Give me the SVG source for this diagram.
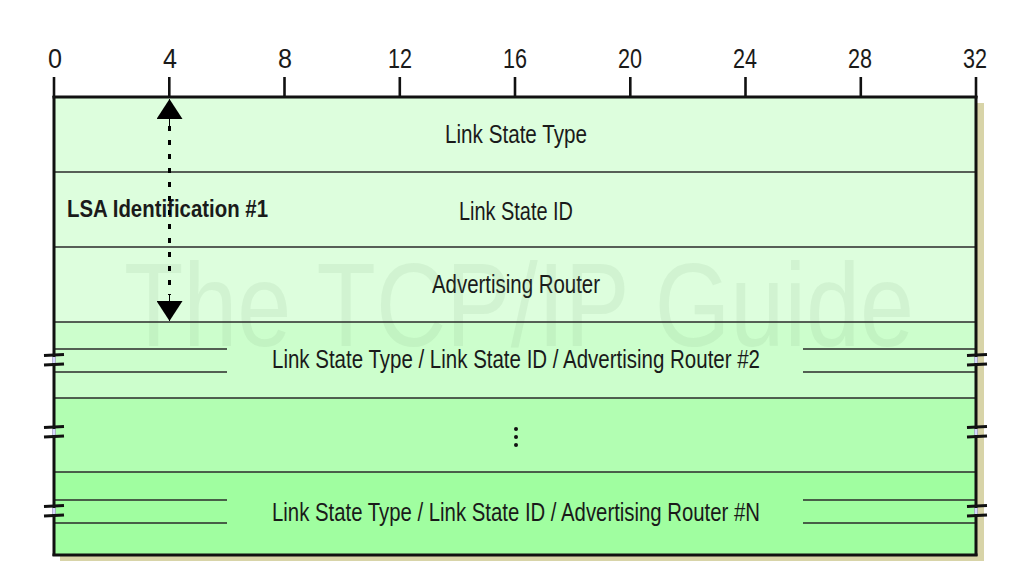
<svg xmlns="http://www.w3.org/2000/svg" width="1024" height="576" viewBox="0 0 1024 576">
<style>
.lbl{font-family:"Liberation Sans",Arial,sans-serif;font-size:25px;fill:#1a1a1a;text-anchor:middle}
.num{font-family:"Liberation Sans",Arial,sans-serif;font-size:28px;fill:#1a1a1a;text-anchor:middle}
.bold{font-family:"Liberation Sans",Arial,sans-serif;font-size:24px;font-weight:bold;fill:#1a1a1a}
.div{stroke:#2a2a2a;stroke-width:1.6}
.tick{stroke:#111;stroke-width:2.6}
.brk{stroke:#111;stroke-width:3}
.gap{stroke:#d6d6ff;stroke-width:3.2}
</style>
<defs>
<marker id="ah" viewBox="0 0 20 26" refX="20" refY="13" markerWidth="20" markerHeight="26" markerUnits="userSpaceOnUse" orient="auto">
<path d="M0,0 L20,13 L0,26 Z" fill="#000"/>
</marker>
</defs>
<rect width="1024" height="576" fill="#fff"/>
<!-- shadow -->
<rect x="977" y="103" width="7" height="458" fill="#d8d4a8"/>
<rect x="60" y="555" width="924" height="6" fill="#d8d4a8"/>
<!-- header -->
<g id="header">
<text class="num" x="55" y="68" textLength="14" lengthAdjust="spacingAndGlyphs">0</text>
<text class="num" x="170" y="68" textLength="14" lengthAdjust="spacingAndGlyphs">4</text>
<text class="num" x="285" y="68" textLength="14" lengthAdjust="spacingAndGlyphs">8</text>
<text class="num" x="400" y="68" textLength="24" lengthAdjust="spacingAndGlyphs">12</text>
<text class="num" x="515" y="68" textLength="24" lengthAdjust="spacingAndGlyphs">16</text>
<text class="num" x="630" y="68" textLength="24" lengthAdjust="spacingAndGlyphs">20</text>
<text class="num" x="745" y="68" textLength="24" lengthAdjust="spacingAndGlyphs">24</text>
<text class="num" x="860" y="68" textLength="24" lengthAdjust="spacingAndGlyphs">28</text>
<text class="num" x="975" y="68" textLength="24" lengthAdjust="spacingAndGlyphs">32</text>
<line class="tick" x1="54" y1="77" x2="54" y2="97"/>
<line class="tick" x1="169.3" y1="77" x2="169.3" y2="97"/>
<line class="tick" x1="284.5" y1="77" x2="284.5" y2="97"/>
<line class="tick" x1="399.8" y1="77" x2="399.8" y2="97"/>
<line class="tick" x1="515" y1="77" x2="515" y2="97"/>
<line class="tick" x1="630.3" y1="77" x2="630.3" y2="97"/>
<line class="tick" x1="745.5" y1="77" x2="745.5" y2="97"/>
<line class="tick" x1="860.8" y1="77" x2="860.8" y2="97"/>
<line class="tick" x1="976" y1="77" x2="976" y2="97"/>
</g>
<!-- row fills -->
<g id="row-link-state-type">
<rect x="54" y="97" width="922" height="75" fill="#ddfedd"/>
<text class="lbl" x="516" y="143" textLength="142" lengthAdjust="spacingAndGlyphs">Link State Type</text>
</g>
<g id="row-link-state-id">
<rect x="54" y="172" width="922" height="75" fill="#ddfedd"/>
<text class="lbl" x="516" y="220" textLength="114" lengthAdjust="spacingAndGlyphs">Link State ID</text>
</g>
<g id="row-advertising-router">
<rect x="54" y="247" width="922" height="75" fill="#ddfedd"/>
<text class="lbl" x="516" y="293" textLength="168" lengthAdjust="spacingAndGlyphs">Advertising Router</text>
</g>
<g id="row-2">
<rect x="54" y="322" width="922" height="76" fill="#ccfecc"/>
</g>
<g id="row-ellipsis">
<rect x="54" y="398" width="922" height="74" fill="#b2feb2"/>
</g>
<g id="row-n">
<rect x="54" y="472" width="922" height="83" fill="#a0fea0"/>
</g>
<!-- watermark -->
<text x="519" y="346" font-family="'Liberation Sans',Arial,sans-serif" font-size="118" fill="#6f8f6f" fill-opacity="0.1" text-anchor="middle" textLength="790" lengthAdjust="spacingAndGlyphs">The TCP/IP Guide</text>
<!-- row labels over watermark -->
<g id="row-2-label">
<line class="div" x1="54" y1="349" x2="227" y2="349"/>
<line class="div" x1="54" y1="372" x2="227" y2="372"/>
<line class="div" x1="803" y1="349" x2="976" y2="349"/>
<line class="div" x1="803" y1="372" x2="976" y2="372"/>
<text class="lbl" x="516" y="368" textLength="488" lengthAdjust="spacingAndGlyphs">Link State Type / Link State ID / Advertising Router #2</text>
</g>
<g id="row-ellipsis-label">
<circle cx="516" cy="429" r="2" fill="#111"/>
<circle cx="516" cy="437" r="2" fill="#111"/>
<circle cx="516" cy="445" r="2" fill="#111"/>
</g>
<g id="row-n-label">
<line class="div" x1="54" y1="500" x2="227" y2="500"/>
<line class="div" x1="54" y1="523" x2="227" y2="523"/>
<line class="div" x1="803" y1="500" x2="976" y2="500"/>
<line class="div" x1="803" y1="523" x2="976" y2="523"/>
<text class="lbl" x="516" y="521" textLength="488" lengthAdjust="spacingAndGlyphs">Link State Type / Link State ID / Advertising Router #N</text>
</g>
<!-- row dividers -->
<g id="dividers">
<line class="div" x1="54" y1="172" x2="976" y2="172"/>
<line class="div" x1="54" y1="247" x2="976" y2="247"/>
<line class="div" x1="54" y1="322" x2="976" y2="322"/>
<line class="div" x1="54" y1="398" x2="976" y2="398"/>
<line class="div" x1="54" y1="472" x2="976" y2="472"/>
</g>
<!-- outer border -->
<g id="border" fill="none" stroke="#111" stroke-width="3">
<line x1="52.5" y1="97" x2="977.5" y2="97"/>
<line x1="52.5" y1="555" x2="977.5" y2="555"/>
<line x1="54" y1="96" x2="54" y2="556"/>
<line x1="976" y1="96" x2="976" y2="556"/>
</g>
<!-- break marks -->
<g id="breaks">
<line class="gap" x1="54" y1="357" x2="54" y2="363"/>
<line class="gap" x1="54" y1="429" x2="54" y2="435"/>
<line class="gap" x1="54" y1="508" x2="54" y2="514"/>
<line class="gap" x1="976" y1="357" x2="976" y2="363"/>
<line class="gap" x1="976" y1="429" x2="976" y2="435"/>
<line class="gap" x1="976" y1="508" x2="976" y2="514"/>
<line class="brk" x1="44" y1="355.5" x2="64" y2="354.5"/>
<line class="brk" x1="44" y1="365" x2="64" y2="364"/>
<line class="brk" x1="44" y1="427.5" x2="64" y2="426.5"/>
<line class="brk" x1="44" y1="437" x2="64" y2="436"/>
<line class="brk" x1="44" y1="506.5" x2="64" y2="505.5"/>
<line class="brk" x1="44" y1="516" x2="64" y2="515"/>
<line class="brk" x1="967" y1="355.5" x2="987" y2="354.5"/>
<line class="brk" x1="967" y1="365" x2="987" y2="364"/>
<line class="brk" x1="967" y1="427.5" x2="987" y2="426.5"/>
<line class="brk" x1="967" y1="437" x2="987" y2="436"/>
<line class="brk" x1="967" y1="506.5" x2="987" y2="505.5"/>
<line class="brk" x1="967" y1="516" x2="987" y2="515"/>
</g>
<!-- side label -->
<g id="lsa-identification">
<text class="bold" x="67" y="217" textLength="201" lengthAdjust="spacingAndGlyphs">LSA Identification #1</text>
</g>
<!-- connectors -->
<g id="connectors">
<line x1="169.5" y1="126" x2="169.5" y2="295" stroke="#000" stroke-width="3" stroke-dasharray="5 9"/>
<line x1="169.5" y1="126" x2="169.5" y2="99" stroke="#000" stroke-width="1" marker-end="url(#ah)"/>
<line x1="169.5" y1="294" x2="169.5" y2="321" stroke="#000" stroke-width="1" marker-end="url(#ah)"/>
</g>
</svg>
